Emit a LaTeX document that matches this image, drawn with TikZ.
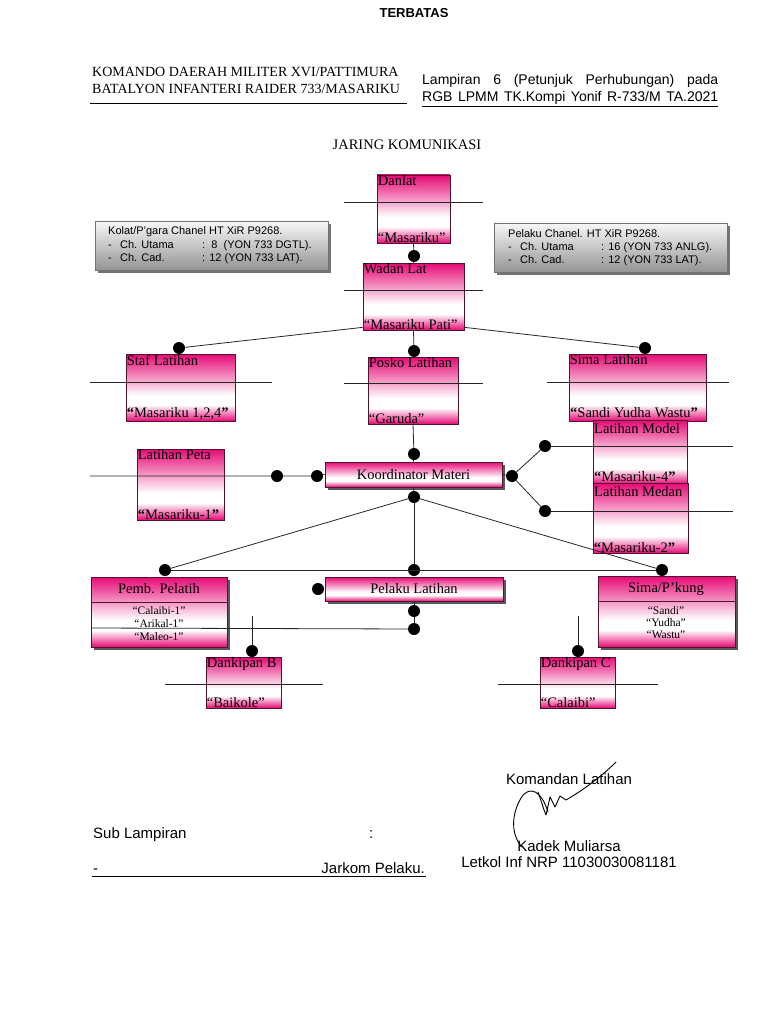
\documentclass[tikz,border=0pt]{standalone}
\usepackage{fontspec}
\setmainfont{Liberation Serif}
\setsansfont{Liberation Sans}
\usetikzlibrary{shadows}
\definecolor{pk}{RGB}{230,10,118}
\definecolor{pkedge}{RGB}{80,20,45}
\pgfdeclareverticalshading{pinkband}{100bp}{color(0bp)=(pk); color(25bp)=(pk); color(37bp)=(white); color(44bp)=(white); color(75bp)=(pk); color(100bp)=(pk)}
\tikzset{
  pbox/.style={draw=pkedge, line width=0.7pt, shading=pinkband, inner sep=0pt},
  sbox/.style={pbox, drop shadow={shadow xshift=3pt, shadow yshift=-3pt, fill=black!65, opacity=1}},
  gbox/.style={draw=black!55, line width=0.6pt, top color=black!3, bottom color=black!42, inner sep=0pt,
     drop shadow={shadow xshift=3pt, shadow yshift=-3pt, fill=black!55, opacity=1}},
  dot/.style={circle, fill=black, inner sep=0pt, minimum size=12pt},
  conn/.style={draw=black!85, line width=0.8pt},
  bt/.style={font=\fontsize{14.5}{16}\selectfont, inner sep=1pt},
  bz/.style={font=\fontsize{14.5}{16}\selectfont, inner sep=0pt},
  st/.style={font=\fontsize{11.5}{12}\selectfont, inner sep=0pt},
  gt/.style={font=\sffamily\fontsize{11}{12}\selectfont, inner sep=0pt, anchor=base west},
  ft/.style={font=\sffamily\fontsize{15}{17}\selectfont, inner sep=0pt},
}
\newcommand{\bq}[1]{\textbf{“}#1\textbf{”}}
\begin{document}
\begin{tikzpicture}[x=1pt,y=-1pt]
\useasboundingbox (0,0) rectangle (768,1024);
\fill[white] (0,0) rectangle (768,1024);

% ---------- header ----------
\node[font=\sffamily\bfseries\fontsize{13}{15}\selectfont] (terbatas) at (414,13) {TERBATAS};
\node[font=\fontsize{14}{16}\selectfont, anchor=base west, inner sep=0pt] (h1) at (92,77) {KOMANDO DAERAH MILITER XVI/PATTIMURA};
\node[font=\fontsize{14}{16}\selectfont, anchor=base west, inner sep=0pt] (h2) at (92,94) {BATALYON INFANTERI RAIDER 733/MASARIKU};
\coordinate (hl1) at (90,103); \coordinate (hl2) at (407,103);
\draw[line width=0.8pt] (hl1) -- (hl2);
\node[font=\sffamily\fontsize{14}{16}\selectfont, anchor=base west, inner sep=0pt] (r1) at (422,85) {\makebox[296pt][s]{Lampiran 6 (Petunjuk Perhubungan) pada}};
\node[font=\sffamily\fontsize{14}{16}\selectfont, anchor=base west, inner sep=0pt] (r2) at (422,102) {\underline{\makebox[296pt][s]{RGB LPMM TK.Kompi Yonif R-733/M TA.2021}}};
\node[font=\fontsize{14.5}{16}\selectfont] (title) at (407,145) {JARING KOMUNIKASI};

% ---------- info boxes ----------
\node[gbox, minimum width=233pt, minimum height=49pt] (ginfoL) at (211.5,245.5) {};
\node[gt] (gl1) at (108,235) {Kolat/P’gara Chanel HT XiR P9268.};
\node[gt] (gl2) at (108,248) {\makebox[12pt][l]{-}\makebox[82pt][l]{Ch. Utama}:\ \ 8\ \ (YON 733 DGTL).};
\node[gt] (gl3) at (108,261) {\makebox[12pt][l]{-}\makebox[82pt][l]{Ch. Cad.}: 12 (YON 733 LAT).};

\node[gbox, minimum width=233pt, minimum height=49pt] (ginfoR) at (610.5,247.5) {};
\node[gt] (gr1) at (508,237) {Pelaku Chanel. HT XiR P9268.};
\node[gt] (gr2) at (508,250) {\makebox[12pt][l]{-}\makebox[81pt][l]{Ch. Utama}: 16 (YON 733 ANLG).};
\node[gt] (gr3) at (508,263) {\makebox[12pt][l]{-}\makebox[81pt][l]{Ch. Cad.}: 12 (YON 733 LAT).};

% ---------- dots ----------
\node[dot] (d1) at (414,256) {};
\node[dot] (dstaf) at (179,348) {};
\node[dot] (dposko) at (414,351) {};
\node[dot] (dsima) at (645,348) {};
\node[dot] (dk1) at (414,454) {};
\node[dot] (dL1) at (277,476) {};
\node[dot] (dL2) at (317,476) {};
\node[dot] (dR) at (512,476) {};
\node[dot] (dRa) at (545,446) {};
\node[dot] (dRb) at (545,511) {};
\node[dot] (dK2) at (414,497) {};
\node[dot] (dPemb) at (165,570) {};
\node[dot] (dPel) at (414,570) {};
\node[dot] (dSim) at (662,570) {};
\node[dot] (dPl) at (318,589) {};
\node[dot] (dP3) at (414,611) {};
\node[dot] (dP4) at (414,629) {};
\node[dot] (dB) at (252,651) {};
\node[dot] (dC) at (578,651) {};

% ---------- boxes ----------
\node[pbox, minimum width=73pt, minimum height=68pt] (danlat) at (413.5,209) {};
\node[pbox, minimum width=101pt, minimum height=67pt] (wadan) at (413.5,296.5) {};
\node[pbox, minimum width=109pt, minimum height=67pt] (staf) at (180.5,387.5) {};
\node[pbox, minimum width=90pt, minimum height=67pt] (posko) at (413,390.5) {};
\node[pbox, minimum width=137pt, minimum height=67pt] (sima) at (637.5,387.5) {};
\node[bz, anchor=base west] (t10) at (570,417) {\bq{Sandi Yudha Wastu}};
\node[pbox, minimum width=87pt, minimum height=71pt] (peta) at (180.5,484.5) {};
\node[sbox, minimum width=177pt, minimum height=25pt] (koord) at (413.5,474.5) {};
\node[pbox, minimum width=94pt, minimum height=64pt] (model) at (640,452) {};
\node[bz, anchor=base west] (t15) at (594,481) {\bq{Masariku-4}};
\node[pbox, minimum width=95pt, minimum height=70pt] (medan) at (640.5,518) {};
\node[sbox, minimum width=178pt, minimum height=24pt] (pelaku) at (414,589) {};
\node[sbox, minimum width=136pt, minimum height=70pt] (pemb) at (159,612) {};
\node[sbox, minimum width=137pt, minimum height=71pt] (simapk) at (666.5,611.5) {};
\node[pbox, minimum width=75pt, minimum height=51pt] (dkb) at (243.5,682.5) {};
\node[pbox, minimum width=75pt, minimum height=51pt] (dkc) at (577.5,682.5) {};

% ---------- connector lines ----------
\draw[conn] (danlat.south) -- (d1) -- (wadan.north);
\draw[conn] ([yshift=3pt]wadan.south west) -- (dstaf);
\draw[conn] ([yshift=3pt]wadan.south east) -- (dsima);
\draw[conn] (wadan.south) -- (dposko);
\draw[conn] (posko.south) -- (dk1) -- (koord.north);
\coordinate (pl0) at (90,476);
\draw[conn] (pl0) -- (dL1) -- (dL2) -- (koord.west);
\draw[conn] (koord.east) -- (dR);
\draw[conn] (dR) -- (dRa); \draw[conn] (dR) -- (dRb);
\coordinate (ra2) at (733,446); \coordinate (rb2) at (733,511);
\draw[conn] (dRa) -- (ra2);
\draw[conn] (dRb) -- (rb2);
\draw[conn] (koord.south) -- (dK2);
\draw[conn] (dK2) -- (dPemb);
\draw[conn] (dK2) -- (dPel);
\draw[conn] (dK2) -- (dSim);
\draw[conn] (dPemb) -- (dSim);
\draw[conn] (pelaku.south) -- (dP3) -- (dP4);
\coordinate (pm0) at (91,628);
\draw[conn] (pm0) -- (dP4);
\coordinate (tB) at (252,616); \coordinate (tC) at (578,616);
\draw[conn] (tB) -- (dB); \draw[conn] (tC) -- (dC);

% lines across boxes
\coordinate (a1) at (344,202); \coordinate (a2) at (483,202); \draw[conn] (a1) -- (a2);
\coordinate (b1) at (344,290); \coordinate (b2) at (483,290); \draw[conn] (b1) -- (b2);
\coordinate (c1) at (90,382);  \coordinate (c2) at (272,382); \draw[conn] (c1) -- (c2);
\coordinate (e1) at (344,383); \coordinate (e2) at (483,383); \draw[conn] (e1) -- (e2);
\coordinate (f1) at (547,382); \coordinate (f2) at (729,382); \draw[conn] (f1) -- (f2);
\coordinate (g1) at (165,684); \coordinate (g2) at (323,684); \draw[conn] (g1) -- (g2);
\coordinate (k1) at (498,684); \coordinate (k2) at (658,684); \draw[conn] (k1) -- (k2);
\coordinate (sp1) at (91,602); \coordinate (sp2) at (227,602); \draw[draw=pkedge, line width=0.8pt] (sp1) -- (sp2);
\coordinate (sq1) at (598,601); \coordinate (sq2) at (735,601); \draw[draw=pkedge, line width=0.8pt] (sq1) -- (sq2);

% ---------- texts in boxes ----------
\node[bt, anchor=north west] (t1) at (danlat.north west) {Danlat};
\node[bt, anchor=south west] (t2) at (danlat.south west) {“Masariku”};
\node[bt, anchor=north west] (t3) at (wadan.north west) {Wadan Lat};
\node[bt, anchor=south west] (t4) at (wadan.south west) {“Masariku Pati”};
\node[bt, anchor=north west] (t5) at (staf.north west) {Staf Latihan};
\node[bt, anchor=south west] (t6) at (staf.south west) {\bq{Masariku 1,2,4}};
\node[bt, anchor=north west] (t7) at (posko.north west) {Posko Latihan};
\node[bt, anchor=south west] (t8) at (posko.south west) {“Garuda”};
\node[bt, anchor=north west] (t9) at (sima.north west) {Sima Latihan};
\node[bt, anchor=north west] (t11) at (peta.north west) {Latihan Peta};
\node[bt, anchor=south west] (t12) at (peta.south west) {\bq{Masariku-1}};
\node[bt] (t13) at (koord.center) {Koordinator Materi};
\node[bz, anchor=north west] (t14) at (594,423) {Latihan Model};
\node[bz, anchor=north west] (t16) at (594,486) {Latihan Medan};
\node[bt, anchor=south west] (t17) at (medan.south west) {\bq{Masariku-2}};
\node[bt] (t18) at (pelaku.center) {Pelaku Latihan};
\node[bt] (t19) at (159,589) {Pemb. Pelatih};
\node[st] (t20) at (159,611) {“Calaibi-1”};
\node[st] (t21) at (159,624) {“Arikal-1”};
\node[st] (t22) at (159,637) {“Maleo-1”};
\node[bt] (t23) at (666,589) {Sima/P’kung};
\node[st] (t24) at (666,611) {“Sandi”};
\node[st] (t25) at (666,623) {“Yudha”};
\node[st] (t26) at (666,635) {“Wastu”};
\node[bt, anchor=north west] (t27) at (dkb.north west) {Dankipan B};
\node[bt, anchor=south west] (t28) at (dkb.south west) {“Baikole”};
\node[bt, anchor=north west] (t29) at (dkc.north west) {Dankipan C};
\node[bt, anchor=south west] (t30) at (dkc.south west) {“Calaibi”};

% ---------- footer ----------
\node[ft] (kom) at (569,779) {Komandan Latihan};
\node[ft, anchor=base west] (sub) at (93,838) {Sub Lampiran};
\node[ft, anchor=base west] (colon) at (369,838) {:};
\node[ft] (kadek) at (569,846) {Kadek Muliarsa};
\node[ft] (letkol) at (569,862) {Letkol Inf NRP 11030030081181};
\node[ft, anchor=base west] (dash) at (93,873) {-};
\node[ft, anchor=base east] (jark) at (425,873) {Jarkom Pelaku.};
\coordinate (u1) at (92,876); \coordinate (u2) at (426,876);
\draw[line width=0.8pt] (u1) -- (u2);
% signature
\draw[line width=0.9pt, line cap=round, line join=round]
  (548,812) .. controls (542,792) and (530,784) .. (521,798)
  .. controls (511,815) and (511,835) .. (522,847);
\draw[line width=0.9pt, line cap=round, line join=round]
  (538,792) .. controls (541,800) and (543,808) .. (546,815)
  -- (550,797) -- (555,807) -- (560,796) -- (566,800)
  .. controls (580,792) and (600,778) .. (616,762);
\end{tikzpicture}
\end{document}
